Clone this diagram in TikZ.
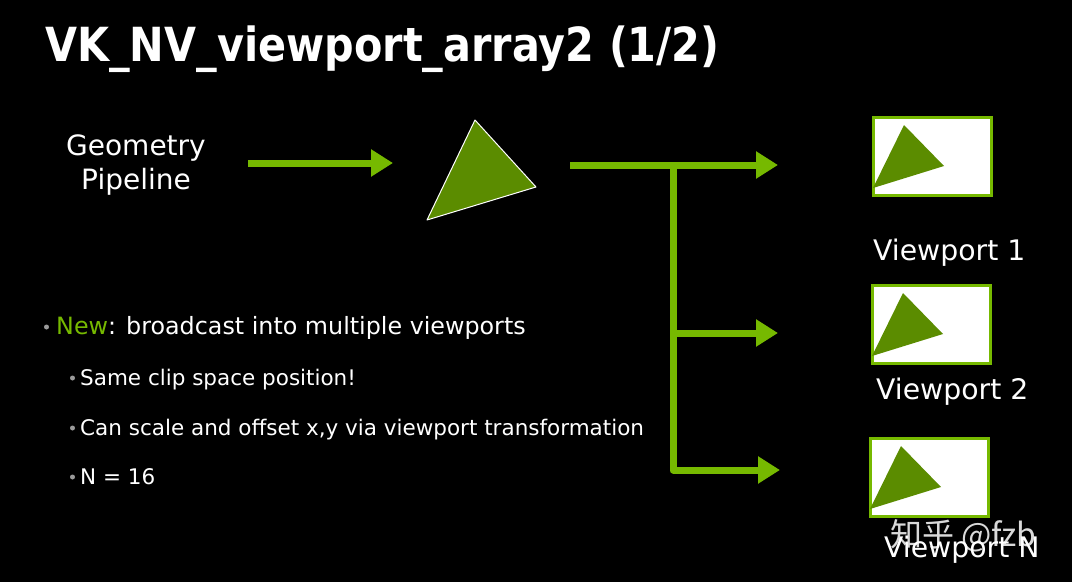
\documentclass[tikz,border=0pt]{standalone}
\usepackage{fontspec}
\setmainfont{DejaVu Sans}
\newfontfamily\titlefont{DejaVu Sans}[FakeStretch=0.88]
\newfontfamily\cjk{Noto Sans CJK SC}
\usetikzlibrary{arrows.meta}
\definecolor{nvgreen}{HTML}{76B900}
\definecolor{trigreen}{HTML}{5B8C00}
\definecolor{bulgray}{HTML}{9A9A9A}
\begin{document}
\begin{tikzpicture}[x=1pt,y=-1pt,
  wire/.style={draw=nvgreen,line width=7pt},
  flow/.style={wire,-{Triangle[length=22pt,width=26pt]}},
  vpbox/.style={draw=nvgreen,line width=2.5pt,fill=white,minimum width=118pt,minimum height=78pt,inner sep=0pt,anchor=north west},
  txt/.style={text=white,inner sep=0pt,anchor=base west},
  ctxt/.style={text=white,inner sep=0pt,anchor=base,font=\fontsize{28}{34}\selectfont},
  vptxt/.style={txt,font=\fontsize{28.3}{34}\selectfont},
  maintxt/.style={txt,font=\fontsize{23.8}{28}\selectfont},
  subtxt/.style={txt,font=\fontsize{21.5}{26}\selectfont},
  bigtri/.style={fill=trigreen,draw=white,line width=1pt,line join=round},
  smalltri/.style={fill=trigreen},
  bul/.style={fill=bulgray,draw=none,circle,inner sep=0pt,minimum size=5pt}]
\fill[black] (0,0) rectangle (1072,582);
\useasboundingbox (0,0) rectangle (1072,582);
% title
\node[txt,font=\titlefont\fontsize{47}{50}\selectfont\bfseries] (title) at (45,61) {VK\_NV\_viewport\_array2 (1/2)};
% geometry pipeline
\node[ctxt] (geo1) at (136,155) {Geometry};
\node[ctxt] (geo2) at (136,189) {Pipeline};
\coordinate (g1) at (248,163);
\coordinate (g2) at (393,163);
\draw[flow] (g1) -- (g2);
% triangle
\filldraw[bigtri] (475,120) coordinate (t1) -- (536,187) coordinate (t2) -- (427,220) coordinate (t3) -- cycle;
% branches
\coordinate (s0) at (570,165);
\coordinate (j1) at (673,165);
\coordinate (j2) at (673,333);
\coordinate (j3) at (673,470);
\coordinate (a1) at (778,165);
\coordinate (a2) at (778,333);
\coordinate (a3) at (780,470);
\draw[flow] (s0) -- (a1);
\draw[flow] (j2) -- (a2);
\draw[flow,line join=round] ([yshift=-3.5pt]j1) -- (j3) -- (a3);
% viewports
\foreach \n/\x/\y in {1/872/116, 2/871/284, 3/869/437}{
  \node[vpbox] (vp\n) at (\x,\y) {};
  \fill[smalltri] ([shift={(32,9)}]vp\n.north west) -- ([shift={(72,50)}]vp\n.north west) -- ([shift={(1,72)}]vp\n.north west) -- cycle;
}
\node[vptxt] (l1) at (873,260) {Viewport 1};
\node[vptxt] (l2) at (876,399) {Viewport 2};
\node[vptxt] (l3) at (884,557) {Viewport N};
% bullets
\node[bul] (d1) at (46.5,327) {};
\node[maintxt] (b1) at (56,334) {\textcolor{nvgreen}{New}: broadcast into multiple viewports};
\node[bul] (d2) at (72.5,378) {};
\node[subtxt] (b2) at (80,385) {Same clip space position!};
\node[bul] (d3) at (72.5,428) {};
\node[subtxt] (b3) at (80,435) {Can scale and offset x,y via viewport transformation};
\node[bul] (d4) at (72.5,477) {};
\node[subtxt] (b4) at (80,484) {N = 16};
% watermark
\node[txt,text opacity=0.85,font=\cjk\fontsize{32}{34}\selectfont] (wm) at (890,546) {知乎 @fzb};
\end{tikzpicture}
\end{document}
